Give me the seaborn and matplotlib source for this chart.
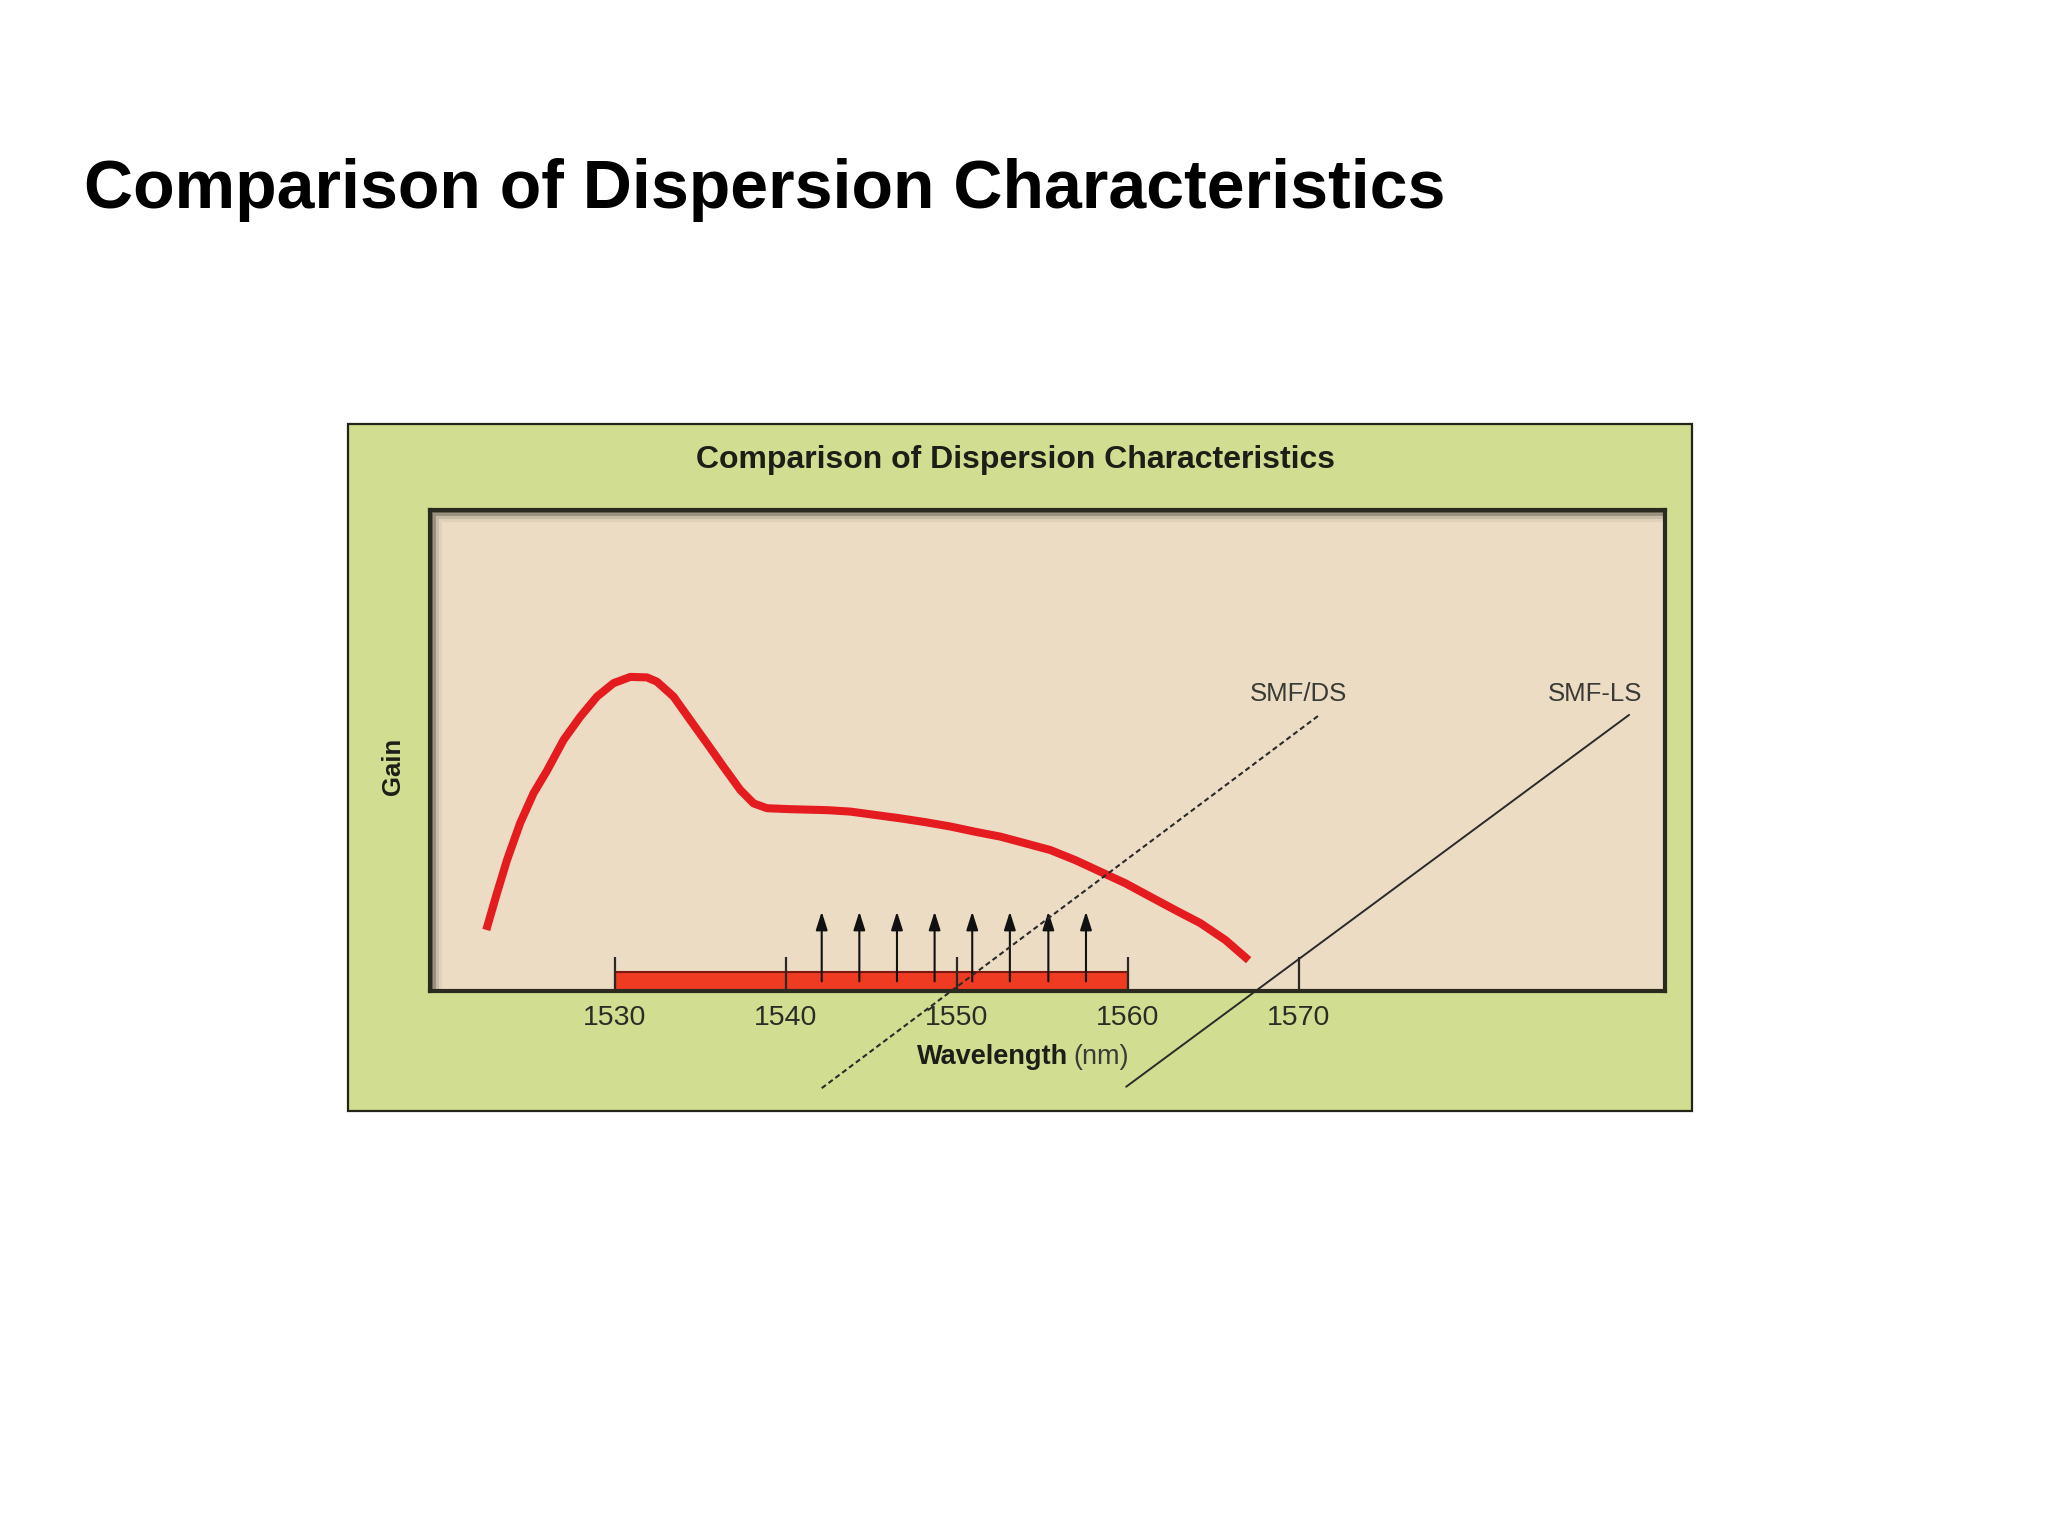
import matplotlib
matplotlib.use("Agg")
import matplotlib.pyplot as plt
from matplotlib.patches import Rectangle
import seaborn as sns
import pandas as pd

# gain curve (wavelength in nm, gain in axis fraction)
gain_nm = [1522.49, 1523.11, 1523.70, 1524.47, 1525.25, 1526.04, 1527.01, 1527.98,
           1528.96, 1529.93, 1530.91, 1531.88, 1532.47, 1533.44, 1534.42, 1535.39,
           1536.36, 1537.34, 1538.12, 1538.90, 1540.26, 1542.41, 1543.77, 1545.23,
           1546.69, 1548.16, 1549.62, 1551.08, 1552.54, 1554.01, 1555.47, 1556.93,
           1558.39, 1559.85, 1561.31, 1562.78, 1564.24, 1565.70, 1567.06]
gain_val = [0.127, 0.203, 0.272, 0.349, 0.411, 0.458, 0.522, 0.570,
            0.612, 0.640, 0.653, 0.652, 0.643, 0.612, 0.563, 0.515,
            0.466, 0.418, 0.390, 0.380, 0.378, 0.376, 0.373, 0.366,
            0.359, 0.351, 0.342, 0.331, 0.321, 0.307, 0.293, 0.272,
            0.248, 0.224, 0.196, 0.168, 0.141, 0.106, 0.064]

# WDM channels (arrows)
channel_nm = [1542.1, 1544.3, 1546.5, 1548.7, 1550.9, 1553.1, 1555.35, 1557.55]
channel_base = 0.02
channel_top = 0.165

# amplifier band (red bar)
band_nm = [1530, 1560]
band_top = 0.04

# dispersion lines
smf_ds_nm = [1542.1, 1571.2]
smf_ds_val = [-0.202, 0.574]
smf_ls_nm = [1559.9, 1589.3]
smf_ls_val = [-0.199, 0.574]
line_labels = ["SMF/DS", "SMF-LS"]
label_nm = [1570.0, 1587.3]
label_val = [0.617, 0.617]

tick_vals = [1530, 1540, 1550, 1560, 1570]
tick_labels = ["1530", "1540", "1550", "1560", "1570"]

title = "Comparison of Dispersion Characteristics"

sns.set_style("white")
narrow = ["Liberation Sans Narrow", "Liberation Sans", "DejaVu Sans"]
plt.rcParams["font.family"] = narrow

W, H = 2048, 1536
fig = plt.figure(figsize=(W / 100, H / 100), dpi=100)
fig.patch.set_facecolor("white")

# outer title
fig.text(84 / W, 1 - 190 / H, title, ha="left", va="center", fontsize=49,
         fontweight="bold", family=["Liberation Sans", "DejaVu Sans"], color="black")

# green panel
panel = Rectangle((348 / W, 1 - 1111 / H), (1692 - 348) / W, (1111 - 424) / H,
                  transform=fig.transFigure, facecolor="#d1dd90", edgecolor="#22251a",
                  linewidth=1.6, zorder=-1)
fig.add_artist(panel)

fig.text(1016 / W, 1 - 460 / H, title, ha="center", va="center", fontsize=23,
         fontweight="bold", color="#1e1e18")

ax = fig.add_axes([430 / W, 1 - 991 / H, 1235 / W, 481 / H])
ax.set_facecolor("#ecdcc4")
ax.set_axisbelow(False)

# inner shadow of the frame (light strips first, dark on top)
shades = ["#6f675a", "#9c917f", "#c9bca7", "#e0d1bb"]
for i in reversed(range(len(shades))):
    c = shades[i]
    ax.add_patch(Rectangle((0, 1 - (i + 1) * 0.0062), 1, (i + 1) * 0.0062,
                           transform=ax.transAxes, facecolor=c, edgecolor="none",
                           zorder=0.5))
    ax.add_patch(Rectangle((0, 0), (i + 1) * 0.0025, 1, transform=ax.transAxes,
                           facecolor=c, edgecolor="none", zorder=0.5))

# red band
ax.fill_between(band_nm, 0, band_top, facecolor="#ef3b22", edgecolor="#7a1a10",
                linewidth=1.5, zorder=2)

# arrows
for x in channel_nm:
    ax.annotate("", xy=(x, channel_top), xytext=(x, channel_base),
                arrowprops=dict(arrowstyle="-|>,head_length=1.1,head_width=0.35",
                                color="#111111", lw=1.5, shrinkA=0, shrinkB=0),
                zorder=4)

# gain curve
curve = pd.DataFrame({"nm": gain_nm, "gain": gain_val})
sns.lineplot(data=curve, x="nm", y="gain", sort=False, color="#e41b1f",
             linewidth=5.8, ax=ax, zorder=3)
for ln in ax.lines:
    ln.set_solid_joinstyle("round")
    ln.set_solid_capstyle("butt")

# dispersion lines
sns.lineplot(x=smf_ds_nm, y=smf_ds_val, color="#2a2a2a", linewidth=1.5,
             ax=ax, zorder=5, clip_on=False, linestyle=(0, (2.5, 1.6)))
sns.lineplot(x=smf_ls_nm, y=smf_ls_val, color="#2a2a2a", linewidth=1.4,
             ax=ax, zorder=5, clip_on=False)
for lab, x, y in zip(line_labels, label_nm, label_val):
    ax.text(x, y, lab, ha="center", va="center", fontsize=18.5, color="#3a3a36")

ax.set_xlim(1519.2, 1591.4)
ax.set_ylim(0, 1)
ax.set_xticks(tick_vals)
ax.set_xticklabels(tick_labels)
ax.set_yticks([])
ax.tick_params(axis="x", bottom=True, direction="in", length=24.5, width=1.6,
               color="#2a2a22", labelsize=20.5, labelcolor="#2c2c26", pad=10)
ax.set_xlabel("")
ax.set_ylabel("")
for s in ax.spines.values():
    s.set_linewidth(3)
    s.set_color("#2a2a20")
    s.set_zorder(6)

# axis labels
ax.text(0.517, -0.137, "Wavelength", transform=ax.transAxes, ha="right", va="center",
        fontsize=19.5, fontweight="bold", color="#1e1e18")
ax.text(0.521, -0.137, "(nm)", transform=ax.transAxes, ha="left", va="center",
        fontsize=19.5, color="#3a3a36")
ax.text(-0.0297, 0.468, "Gain", transform=ax.transAxes, ha="center", va="center",
        rotation=90, fontsize=18.5, fontweight="bold", color="#1e1e18")

fig.savefig("out.png", dpi=100)
